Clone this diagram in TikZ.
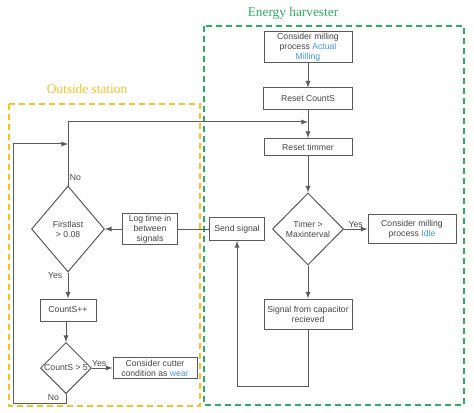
\documentclass[tikz,border=0pt]{standalone}
\usepackage{fontspec}
\setmainfont{Liberation Serif}
\setsansfont{Liberation Sans}
\usetikzlibrary{shapes.geometric}
\definecolor{harvgreen}{RGB}{46,172,98}
\definecolor{statyellow}{RGB}{245,192,40}
\definecolor{hlblue}{RGB}{70,150,235}
\definecolor{linegray}{RGB}{90,90,90}
\definecolor{textgray}{RGB}{70,70,70}

\begin{document}
\begin{tikzpicture}[x=0.75pt, y=-0.75pt, >=latex, line width=0.75pt,
    box/.style={rectangle, draw=linegray, fill=white, align=center, inner sep=1pt,
      text=textgray, font=\sffamily\fontsize{6.5}{7.5}\selectfont},
    bigbox/.style={box, minimum width=66pt, minimum height=#1},
    smallbox/.style={box, minimum width=41.25pt, minimum height=#1},
    decision/.style={diamond, draw=linegray, fill=white, align=center, inner sep=0pt,
      text=textgray, font=\sffamily\fontsize{6.5}{7.5}\selectfont},
    lbl/.style={text=textgray, font=\sffamily\fontsize{6.5}{7.5}\selectfont, inner sep=1pt},
    title/.style={font=\fontsize{10}{12}\selectfont}]
\useasboundingbox (0,0) rectangle (474,413);

% the two areas
\draw[harvgreen, line width=1.1pt, dash pattern=on 4.5pt off 3pt] (204,26) rectangle (464,405);
\draw[statyellow, line width=1.1pt, dash pattern=on 4.5pt off 3pt] (9,104) rectangle (200,406);
\node[title, text=harvgreen] (eh) at (293,13) {Energy harvester};
\node[title, text=statyellow] (os) at (87,89) {Outside station};

% energy harvester
\node[bigbox=22.5pt] (act) at (308,47) {Consider milling\\process \textcolor{hlblue}{Actual}\\\textcolor{hlblue}{Milling}};
\node[bigbox=16.5pt, minimum width=66.75pt] (rcs) at (308,99) {Reset CountS};
\node[bigbox=12.75pt] (rtm) at (308,147) {Reset timmer};
\node[decision, minimum width=53.25pt, minimum height=54pt] (tmr) at (308,229) {Timer >\\Maxinterval};
\node[bigbox=21.75pt] (idle) at (412,229) {Consider milling\\process \textcolor{hlblue}{Idle}};
\node[bigbox=22.5pt] (cap) at (308,314) {Signal from capacitor\\recieved};
\node[smallbox=17.25pt] (send) at (237,229) {Send signal};

% outside station
\node[smallbox=23.25pt] (logt) at (150,229) {Log time in\\between\\signals};
\node[decision, minimum width=54.75pt, minimum height=64.5pt] (first) at (68,229) {Firstlast\\> 0.08};
\node[smallbox=16.5pt, minimum width=42pt] (cnt) at (68,310) {CountS++};
\node[decision, minimum width=38.25pt, minimum height=38.25pt] (chk) at (66,368) {CountS > 5};
\node[bigbox=15.75pt, minimum width=63pt] (wear) at (155,368) {Consider cutter\\condition as \textcolor{hlblue}{wear}};

\coordinate (nojoin) at (308,122);
\coordinate (capbot) at (308,386);
\coordinate (noleft) at (13,403);
\coordinate (noup) at (13,144);

\begin{scope}[draw=linegray]
\draw[->] (act) -- (rcs);
\draw[->] (rcs) -- (rtm);
\draw[->] (rtm) -- (tmr);
\draw[->] (tmr) -- node[lbl, above]{Yes} (idle);
\draw[->] (tmr) -- (cap);
\draw[->] (cap) -- (capbot) -| (send);
\draw (send) -- (logt);
\draw[->] (logt) -- (first);
\draw[->] (first) |- node[lbl, pos=0.06, right]{No} (nojoin);
\draw[->] (first) -- node[lbl, pos=0.12, left, xshift=-3pt]{Yes} (cnt);
\draw[->] (cnt.south -| chk) -- (chk);
\draw[->] (chk) -- node[lbl, pos=0.35, above]{Yes} (wear);
\draw[->] (chk) |- node[lbl, pos=0.2, left, xshift=-4pt]{No} (noleft) -- (noup) -- (noup -| first);
\end{scope}
\end{tikzpicture}
\end{document}
